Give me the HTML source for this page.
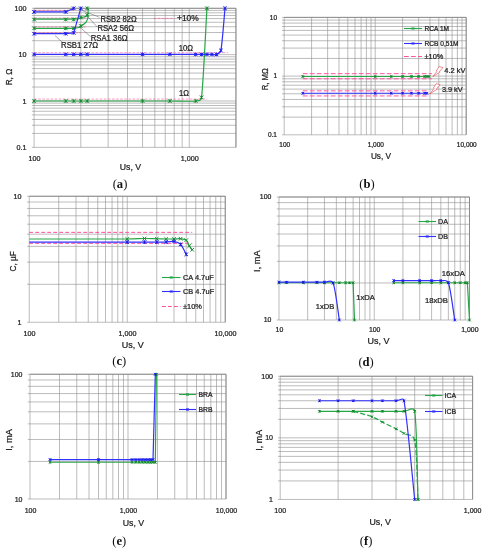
<!DOCTYPE html>
<html lang="en"><head><meta charset="utf-8"><title>Figure</title>
<style>html,body{margin:0;padding:0;background:#fff}svg{display:block}text{white-space:pre}</style>
</head><body>
<svg width="484" height="550" viewBox="0 0 484 550">
<rect width="484" height="550" fill="#fff"/>
<path d="M34.10 8.30V147.35M80.80 8.30V147.35M108.13 8.30V147.35M127.51 8.30V147.35M142.55 8.30V147.35M154.83 8.30V147.35M165.22 8.30V147.35M174.21 8.30V147.35M182.15 8.30V147.35M189.25 8.30V147.35M235.95 8.30V147.35M31.90 147.35H235.95M31.90 133.40H235.95M31.90 125.24H235.95M31.90 119.44H235.95M31.90 114.95H235.95M31.90 111.28H235.95M31.90 108.18H235.95M31.90 105.49H235.95M31.90 103.12H235.95M31.90 101.00H235.95M31.90 87.05H235.95M31.90 78.89H235.95M31.90 73.09H235.95M31.90 68.60H235.95M31.90 64.93H235.95M31.90 61.83H235.95M31.90 59.14H235.95M31.90 56.77H235.95M31.90 54.65H235.95M31.90 40.70H235.95M31.90 32.54H235.95M31.90 26.74H235.95M31.90 22.25H235.95M31.90 18.58H235.95M31.90 15.48H235.95M31.90 12.79H235.95M31.90 10.42H235.95M31.90 8.30H235.95" stroke="#8e8e8e" stroke-width="0.6" fill="none"/>
<path d="M34.10 8.30H235.95V147.35" fill="none" stroke="#808080" stroke-width="0.8"/>
<path d="M34.10 10.38L73.71 10.38" stroke="#ff4f9a" stroke-width="0.6" fill="none" stroke-linejoin="round" stroke-dasharray="2.6 1.5"/>
<path d="M34.10 18.05L87.23 18.05" stroke="#ff4f9a" stroke-width="0.6" fill="none" stroke-linejoin="round" stroke-dasharray="2.6 1.5"/>
<path d="M34.10 26.95L87.23 26.95" stroke="#ff4f9a" stroke-width="0.6" fill="none" stroke-linejoin="round" stroke-dasharray="2.6 1.5"/>
<path d="M34.10 32.74L80.80 32.74" stroke="#ff4f9a" stroke-width="0.6" fill="none" stroke-linejoin="round" stroke-dasharray="2.6 1.5"/>
<path d="M34.10 52.73L228.10 52.73" stroke="#ff4f9a" stroke-width="0.6" fill="none" stroke-linejoin="round" stroke-dasharray="2.6 1.5"/>
<path d="M34.10 99.08L206.93 99.08" stroke="#ff4f9a" stroke-width="0.6" fill="none" stroke-linejoin="round" stroke-dasharray="2.6 1.5"/>
<path d="M99.6 17.3L81.5 10.2" stroke="#555" stroke-width="0.5" fill="none"/>
<path d="M97.4 27.1L87.5 16.4" stroke="#555" stroke-width="0.5" fill="none"/>
<path d="M90.7 36.8L79.2 26.6" stroke="#555" stroke-width="0.5" fill="none"/>
<path d="M62.4 42.4L55 35.5" stroke="#555" stroke-width="0.5" fill="none"/>
<path d="M34.10 101.00C39.38 101.00 59.17 101.00 65.77 101.00C69.74 101.00 71.20 101.00 73.71 101.00C76.21 101.00 78.55 101.00 80.80 101.00C83.06 101.00 84.02 101.00 87.23 101.00C97.52 101.00 128.77 101.00 142.55 101.00C156.21 101.00 161.01 101.00 169.87 101.00C178.72 101.00 190.39 101.61 195.67 101.00C199.11 100.60 201.12 100.76 201.53 97.33C203.41 81.88 206.03 23.14 206.93 8.30" stroke="#27a646" stroke-width="1.2" fill="none" stroke-linejoin="round"/>
<path d="M32.30 99.20L35.90 102.80M32.30 102.80L35.90 99.20M34.10 99.20V102.80M63.97 99.20L67.57 102.80M63.97 102.80L67.57 99.20M65.77 99.20V102.80M71.91 99.20L75.51 102.80M71.91 102.80L75.51 99.20M73.71 99.20V102.80M79.00 99.20L82.60 102.80M79.00 102.80L82.60 99.20M80.80 99.20V102.80M85.43 99.20L89.03 102.80M85.43 102.80L89.03 99.20M87.23 99.20V102.80M140.75 99.20L144.35 102.80M140.75 102.80L144.35 99.20M142.55 99.20V102.80M168.07 99.20L171.67 102.80M168.07 102.80L171.67 99.20M169.87 99.20V102.80M193.87 99.20L197.47 102.80M193.87 102.80L197.47 99.20M195.67 99.20V102.80M199.73 95.53L203.33 99.13M199.73 99.13L203.33 95.53M201.53 95.53V99.13M205.13 6.50L208.73 10.10M205.13 10.10L208.73 6.50M206.93 6.50V10.10" stroke="#12882c" stroke-width="0.95" fill="none"/>
<path d="M34.1 19.1H74.1C77 19.1 79 18.3 81.7 17.5C85.5 16.6 88.1 16.4 88.1 13V8.3" stroke="#27a646" stroke-width="1.2" fill="none" stroke-linejoin="round"/>
<path d="M34.1 28.4H74.1C77 28.3 79.5 27.2 81.3 26C85.5 23.4 88.1 21.5 88.1 15" stroke="#27a646" stroke-width="1.2" fill="none" stroke-linejoin="round"/>
<path d="M32.30 17.71L35.90 21.31M32.30 21.31L35.90 17.71M34.10 17.71V21.31M63.97 17.71L67.57 21.31M63.97 21.31L67.57 17.71M65.77 17.71V21.31M71.91 17.71L75.51 21.31M71.91 21.31L75.51 17.71M73.71 17.71V21.31M79.00 15.70L82.60 19.30M79.00 19.30L82.60 15.70M80.80 15.70V19.30M85.43 13.11L89.03 16.71M85.43 16.71L89.03 13.11M87.23 13.11V16.71M85.43 6.50L89.03 10.10M85.43 10.10L89.03 6.50M87.23 6.50V10.10" stroke="#12882c" stroke-width="0.95" fill="none"/>
<path d="M32.30 26.57L35.90 30.17M32.30 30.17L35.90 26.57M34.10 26.57V30.17M63.97 26.57L67.57 30.17M63.97 30.17L67.57 26.57M65.77 26.57V30.17M71.91 26.57L75.51 30.17M71.91 30.17L75.51 26.57M73.71 26.57V30.17M79.00 24.20L82.60 27.80M79.00 27.80L82.60 24.20M80.80 24.20V27.80" stroke="#12882c" stroke-width="0.95" fill="none"/>
<path d="M34.10 54.35C39.38 54.35 59.17 54.35 65.77 54.35C69.74 54.35 71.20 54.35 73.71 54.35C76.21 54.35 78.55 54.35 80.80 54.35C83.06 54.35 84.02 54.35 87.23 54.35C97.52 54.35 128.77 54.35 142.55 54.35C156.21 54.35 161.01 54.33 169.87 54.35C178.72 54.37 190.39 54.43 195.67 54.45C198.60 54.46 199.66 54.45 201.53 54.45C203.41 54.45 205.20 54.45 206.93 54.45C208.66 54.45 210.31 54.45 211.92 54.45C213.53 54.45 215.07 55.11 216.57 54.45C218.07 53.79 220.39 53.38 220.92 50.48C222.32 42.79 224.32 15.33 225.00 8.30" stroke="#3030ff" stroke-width="1.2" fill="none" stroke-linejoin="round"/>
<path d="M32.30 52.55L35.90 56.15M32.30 56.15L35.90 52.55M34.10 52.55V56.15M63.97 52.55L67.57 56.15M63.97 56.15L67.57 52.55M65.77 52.55V56.15M71.91 52.55L75.51 56.15M71.91 56.15L75.51 52.55M73.71 52.55V56.15M79.00 52.55L82.60 56.15M79.00 56.15L82.60 52.55M80.80 52.55V56.15M85.43 52.55L89.03 56.15M85.43 56.15L89.03 52.55M87.23 52.55V56.15M140.75 52.55L144.35 56.15M140.75 56.15L144.35 52.55M142.55 52.55V56.15M168.07 52.55L171.67 56.15M168.07 56.15L171.67 52.55M169.87 52.55V56.15M193.87 52.65L197.47 56.25M193.87 56.25L197.47 52.65M195.67 52.65V56.25M199.73 52.65L203.33 56.25M199.73 56.25L203.33 52.65M201.53 52.65V56.25M205.13 52.65L208.73 56.25M205.13 56.25L208.73 52.65M206.93 52.65V56.25M210.12 52.65L213.72 56.25M210.12 56.25L213.72 52.65M211.92 52.65V56.25M214.77 52.65L218.37 56.25M214.77 56.25L218.37 52.65M216.57 52.65V56.25M219.12 48.68L222.72 52.28M219.12 52.28L222.72 48.68M220.92 48.68V52.28M223.20 6.50L226.80 10.10M223.20 10.10L226.80 6.50M225.00 6.50V10.10" stroke="#1818e8" stroke-width="0.95" fill="none"/>
<path d="M34.10 11.93L65.77 11.93L73.71 8.30" stroke="#3030ff" stroke-width="1.2" fill="none" stroke-linejoin="round"/>
<path d="M32.30 10.13L35.90 13.73M32.30 13.73L35.90 10.13M34.10 10.13V13.73M63.97 10.13L67.57 13.73M63.97 13.73L67.57 10.13M65.77 10.13V13.73M71.91 6.50L75.51 10.10M71.91 10.10L75.51 6.50M73.71 6.50V10.10" stroke="#1818e8" stroke-width="0.95" fill="none"/>
<path d="M34.10 33.71L65.77 33.71L73.71 32.87L80.80 8.30" stroke="#3030ff" stroke-width="1.2" fill="none" stroke-linejoin="round"/>
<path d="M32.30 31.91L35.90 35.51M32.30 35.51L35.90 31.91M34.10 31.91V35.51M63.97 31.91L67.57 35.51M63.97 35.51L67.57 31.91M65.77 31.91V35.51M71.91 31.07L75.51 34.67M71.91 34.67L75.51 31.07M73.71 31.07V34.67M79.00 6.50L82.60 10.10M79.00 10.10L82.60 6.50M80.80 6.50V10.10" stroke="#1818e8" stroke-width="0.95" fill="none"/>
<text x="100.50" y="21.60" font-size="8.2" text-anchor="start" font-family='"Liberation Sans", sans-serif' fill="#1a1a1a" stroke="#1a1a1a" stroke-width="0.22" textLength="36.3" lengthAdjust="spacingAndGlyphs">RSB2 82Ω</text>
<text x="97.40" y="31.10" font-size="8.2" text-anchor="start" font-family='"Liberation Sans", sans-serif' fill="#1a1a1a" stroke="#1a1a1a" stroke-width="0.22" textLength="36.6" lengthAdjust="spacingAndGlyphs">RSA2 56Ω</text>
<text x="90.70" y="40.50" font-size="8.2" text-anchor="start" font-family='"Liberation Sans", sans-serif' fill="#1a1a1a" stroke="#1a1a1a" stroke-width="0.22" textLength="36.8" lengthAdjust="spacingAndGlyphs">RSA1 36Ω</text>
<text x="61.00" y="47.60" font-size="8.2" text-anchor="start" font-family='"Liberation Sans", sans-serif' fill="#1a1a1a" stroke="#1a1a1a" stroke-width="0.22" textLength="37.1" lengthAdjust="spacingAndGlyphs">RSB1 27Ω</text>
<path d="M153.7 18.4H172.3" stroke="#ff4f9a" stroke-width="0.6" stroke-dasharray="2.6 1.5"/>
<text x="177.00" y="20.90" font-size="8.2" text-anchor="start" font-family='"Liberation Sans", sans-serif' fill="#1a1a1a" stroke="#1a1a1a" stroke-width="0.22" textLength="21.7" lengthAdjust="spacingAndGlyphs">+10%</text>
<text x="178.80" y="50.50" font-size="8.2" text-anchor="start" font-family='"Liberation Sans", sans-serif' fill="#1a1a1a" stroke="#1a1a1a" stroke-width="0.22" textLength="14.3" lengthAdjust="spacingAndGlyphs">10Ω</text>
<text x="179.00" y="95.80" font-size="8.2" text-anchor="start" font-family='"Liberation Sans", sans-serif' fill="#1a1a1a" stroke="#1a1a1a" stroke-width="0.22" textLength="10" lengthAdjust="spacingAndGlyphs">1Ω</text>
<text x="26.60" y="10.89" font-size="7.2" text-anchor="end" font-family='"Liberation Sans", sans-serif' fill="#1a1a1a" stroke="#1a1a1a" stroke-width="0.22">100</text>
<text x="26.60" y="57.24" font-size="7.2" text-anchor="end" font-family='"Liberation Sans", sans-serif' fill="#1a1a1a" stroke="#1a1a1a" stroke-width="0.22">10</text>
<text x="26.60" y="103.59" font-size="7.2" text-anchor="end" font-family='"Liberation Sans", sans-serif' fill="#1a1a1a" stroke="#1a1a1a" stroke-width="0.22">1</text>
<text x="26.60" y="149.94" font-size="7.2" text-anchor="end" font-family='"Liberation Sans", sans-serif' fill="#1a1a1a" stroke="#1a1a1a" stroke-width="0.22">0.1</text>
<text x="34.60" y="160.89" font-size="7.2" text-anchor="middle" font-family='"Liberation Sans", sans-serif' fill="#1a1a1a" stroke="#1a1a1a" stroke-width="0.22">100</text>
<text x="189.75" y="160.89" font-size="7.2" text-anchor="middle" font-family='"Liberation Sans", sans-serif' fill="#1a1a1a" stroke="#1a1a1a" stroke-width="0.22">1,000</text>
<text x="130.40" y="170.40" font-size="8.8" text-anchor="middle" font-family='"Liberation Sans", sans-serif' fill="#1a1a1a" stroke="#1a1a1a" stroke-width="0.22" textLength="21.3" lengthAdjust="spacingAndGlyphs">Us, V</text>
<text x="12.00" y="77.00" font-size="9" text-anchor="middle" font-family='"Liberation Sans", sans-serif' fill="#1a1a1a" stroke="#1a1a1a" stroke-width="0.22" transform="rotate(-90 12.00 77.00)" textLength="16.6" lengthAdjust="spacingAndGlyphs">R, Ω</text>
<text x="120.00" y="187.80" font-size="12.6" text-anchor="middle" font-family='"Liberation Serif", serif' fill="#111">(<tspan font-weight="bold">a</tspan>)</text>
<path d="M284.20 17.40V134.80M311.59 17.40V134.80M327.62 17.40V134.80M338.99 17.40V134.80M347.81 17.40V134.80M355.01 17.40V134.80M361.10 17.40V134.80M366.38 17.40V134.80M371.04 17.40V134.80M375.20 17.40V134.80M402.59 17.40V134.80M418.62 17.40V134.80M429.99 17.40V134.80M438.81 17.40V134.80M446.01 17.40V134.80M452.10 17.40V134.80M457.38 17.40V134.80M462.04 17.40V134.80M466.20 17.40V134.80M282.00 134.80H466.20M282.00 117.13H466.20M282.00 106.79H466.20M282.00 99.46H466.20M282.00 93.77H466.20M282.00 89.12H466.20M282.00 85.19H466.20M282.00 81.79H466.20M282.00 78.79H466.20M282.00 76.10H466.20M282.00 58.43H466.20M282.00 48.09H466.20M282.00 40.76H466.20M282.00 35.07H466.20M282.00 30.42H466.20M282.00 26.49H466.20M282.00 23.09H466.20M282.00 20.09H466.20M282.00 17.40H466.20" stroke="#8e8e8e" stroke-width="0.6" fill="none"/>
<path d="M284.20 17.40H466.20V134.80" fill="none" stroke="#808080" stroke-width="0.8"/>
<path d="M302.77 73.67L431.92 73.67" stroke="#ff4f9a" stroke-width="0.95" fill="none" stroke-linejoin="round" stroke-dasharray="4.8 2.2"/>
<path d="M302.77 78.79L431.92 78.79" stroke="#ff4f9a" stroke-width="0.95" fill="none" stroke-linejoin="round" stroke-dasharray="4.8 2.2"/>
<path d="M302.77 90.84L428.99 90.84" stroke="#ff4f9a" stroke-width="0.95" fill="none" stroke-linejoin="round" stroke-dasharray="4.8 2.2"/>
<path d="M302.77 95.95L428.99 95.95" stroke="#ff4f9a" stroke-width="0.95" fill="none" stroke-linejoin="round" stroke-dasharray="4.8 2.2"/>
<path d="M302.77 76.49L375.20 76.49L391.22 76.49L402.59 76.49L411.41 76.49L418.62 76.49L424.71 76.49L426.91 76.49L428.99 76.49" stroke="#27a646" stroke-width="1.2" fill="none" stroke-linejoin="round"/>
<path d="M301.47 75.19L304.07 77.79M301.47 77.79L304.07 75.19M302.77 75.19V77.79M373.90 75.19L376.50 77.79M373.90 77.79L376.50 75.19M375.20 75.19V77.79M389.92 75.19L392.52 77.79M389.92 77.79L392.52 75.19M391.22 75.19V77.79M401.29 75.19L403.89 77.79M401.29 77.79L403.89 75.19M402.59 75.19V77.79M410.11 75.19L412.71 77.79M410.11 77.79L412.71 75.19M411.41 75.19V77.79M417.32 75.19L419.92 77.79M417.32 77.79L419.92 75.19M418.62 75.19V77.79M423.41 75.19L426.01 77.79M423.41 77.79L426.01 75.19M424.71 75.19V77.79M425.61 75.19L428.21 77.79M425.61 77.79L428.21 75.19M426.91 75.19V77.79M427.69 75.19L430.29 77.79M427.69 77.79L430.29 75.19M428.99 75.19V77.79" stroke="#12882c" stroke-width="0.95" fill="none"/>
<path d="M302.77 93.27L375.20 93.27L391.22 93.27L402.59 93.27L411.41 93.27L418.62 93.27L424.71 93.27L426.91 93.27" stroke="#3030ff" stroke-width="1.2" fill="none" stroke-linejoin="round"/>
<path d="M301.47 91.97L304.07 94.57M301.47 94.57L304.07 91.97M302.77 91.97V94.57M373.90 91.97L376.50 94.57M373.90 94.57L376.50 91.97M375.20 91.97V94.57M389.92 91.97L392.52 94.57M389.92 94.57L392.52 91.97M391.22 91.97V94.57M401.29 91.97L403.89 94.57M401.29 94.57L403.89 91.97M402.59 91.97V94.57M410.11 91.97L412.71 94.57M410.11 94.57L412.71 91.97M411.41 91.97V94.57M417.32 91.97L419.92 94.57M417.32 94.57L419.92 91.97M418.62 91.97V94.57M423.41 91.97L426.01 94.57M423.41 94.57L426.01 91.97M424.71 91.97V94.57M425.61 91.97L428.21 94.57M425.61 94.57L428.21 91.97M426.91 91.97V94.57" stroke="#1818e8" stroke-width="0.95" fill="none"/>
<path d="M404.00 28.50H422.00" stroke="#27a646" stroke-width="1.1" fill="none"/>
<path d="M411.60 27.10L414.40 29.90M411.60 29.90L414.40 27.10M413.00 27.10V29.90" stroke="#27a646" stroke-width="0.7" fill="none"/>
<text x="424.50" y="30.88" font-size="6.6" text-anchor="start" font-family='"Liberation Sans", sans-serif' fill="#1a1a1a" stroke="#1a1a1a" stroke-width="0.22">RCA 1M</text>
<path d="M404.00 43.50H422.00" stroke="#3030ff" stroke-width="1.1" fill="none"/>
<path d="M411.60 42.10L414.40 44.90M411.60 44.90L414.40 42.10M413.00 42.10V44.90" stroke="#3030ff" stroke-width="0.7" fill="none"/>
<text x="424.50" y="45.88" font-size="6.6" text-anchor="start" font-family='"Liberation Sans", sans-serif' fill="#1a1a1a" stroke="#1a1a1a" stroke-width="0.22">RCB 0,51M</text>
<path d="M404.00 56.50H422.00" stroke="#ff4f9a" stroke-width="0.95" stroke-dasharray="4.8 2.2" fill="none"/>
<text x="424.50" y="59.16" font-size="7.4" text-anchor="start" font-family='"Liberation Sans", sans-serif' fill="#1a1a1a" stroke="#1a1a1a" stroke-width="0.22">±10%</text>
<path d="M432.90 76.70L437.10 71.10L436.40 70.70L439.10 66.60L442.90 67.60L439.50 71.50L440.20 71.90Z" stroke="#e8303a" stroke-width="0.55" fill="#fff" stroke-linejoin="miter"/>
<path d="M430.00 93.80L434.20 88.20L433.50 87.80L436.20 83.70L440.00 84.70L436.60 88.60L437.30 89.00Z" stroke="#e8303a" stroke-width="0.55" fill="#fff" stroke-linejoin="miter"/>
<text x="444.30" y="72.90" font-size="7.4" text-anchor="start" font-family='"Liberation Sans", sans-serif' fill="#1a1a1a" stroke="#1a1a1a" stroke-width="0.22" textLength="21.2" lengthAdjust="spacingAndGlyphs">4.2 kV</text>
<text x="441.90" y="91.50" font-size="7.4" text-anchor="start" font-family='"Liberation Sans", sans-serif' fill="#1a1a1a" stroke="#1a1a1a" stroke-width="0.22" textLength="20.7" lengthAdjust="spacingAndGlyphs">3.9 kV</text>
<text x="277.00" y="19.74" font-size="6.5" text-anchor="end" font-family='"Liberation Sans", sans-serif' fill="#1a1a1a" stroke="#1a1a1a" stroke-width="0.22">10</text>
<text x="277.00" y="78.44" font-size="6.5" text-anchor="end" font-family='"Liberation Sans", sans-serif' fill="#1a1a1a" stroke="#1a1a1a" stroke-width="0.22">1</text>
<text x="277.00" y="137.14" font-size="6.5" text-anchor="end" font-family='"Liberation Sans", sans-serif' fill="#1a1a1a" stroke="#1a1a1a" stroke-width="0.22">0.1</text>
<text x="284.80" y="146.94" font-size="6.5" text-anchor="middle" font-family='"Liberation Sans", sans-serif' fill="#1a1a1a" stroke="#1a1a1a" stroke-width="0.22">100</text>
<text x="375.80" y="146.94" font-size="6.5" text-anchor="middle" font-family='"Liberation Sans", sans-serif' fill="#1a1a1a" stroke="#1a1a1a" stroke-width="0.22">1,000</text>
<text x="466.80" y="146.94" font-size="6.5" text-anchor="middle" font-family='"Liberation Sans", sans-serif' fill="#1a1a1a" stroke="#1a1a1a" stroke-width="0.22">10,000</text>
<text x="381.00" y="159.40" font-size="8.2" text-anchor="middle" font-family='"Liberation Sans", sans-serif' fill="#1a1a1a" stroke="#1a1a1a" stroke-width="0.22" textLength="20.2" lengthAdjust="spacingAndGlyphs">Us, V</text>
<text x="268.00" y="79.30" font-size="8.3" text-anchor="middle" font-family='"Liberation Sans", sans-serif' fill="#1a1a1a" stroke="#1a1a1a" stroke-width="0.22" transform="rotate(-90 268.00 79.30)" textLength="22" lengthAdjust="spacingAndGlyphs">R, MΩ</text>
<text x="367.00" y="188.20" font-size="12.6" text-anchor="middle" font-family='"Liberation Serif", serif' fill="#111">(<tspan font-weight="bold">b</tspan>)</text>
<path d="M29.25 196.25V322.25M58.75 196.25V322.25M76.01 196.25V322.25M88.25 196.25V322.25M97.75 196.25V322.25M105.51 196.25V322.25M112.07 196.25V322.25M117.75 196.25V322.25M122.77 196.25V322.25M127.25 196.25V322.25M156.75 196.25V322.25M174.01 196.25V322.25M186.25 196.25V322.25M195.75 196.25V322.25M203.51 196.25V322.25M210.07 196.25V322.25M215.75 196.25V322.25M220.77 196.25V322.25M225.25 196.25V322.25M27.05 322.25H225.25M27.05 284.32H225.25M27.05 262.13H225.25M27.05 246.39H225.25M27.05 234.18H225.25M27.05 224.20H225.25M27.05 215.77H225.25M27.05 208.46H225.25M27.05 202.02H225.25M27.05 196.25H225.25" stroke="#8e8e8e" stroke-width="0.6" fill="none"/>
<path d="M29.25 196.25H225.25V322.25" fill="none" stroke="#808080" stroke-width="0.8"/>
<path d="M29.25 232.35L192.20 232.35" stroke="#ff4f9a" stroke-width="1.0" fill="none" stroke-linejoin="round" stroke-dasharray="3.8 2.2"/>
<path d="M29.25 243.33L192.20 243.33" stroke="#ff4f9a" stroke-width="1.0" fill="none" stroke-linejoin="round" stroke-dasharray="3.8 2.2"/>
<path d="M29.25 238.98C45.58 238.98 108.04 239.06 127.25 238.98C135.88 238.95 139.59 238.54 144.51 238.51C149.42 238.47 153.13 238.66 156.75 238.74C160.37 238.82 163.37 238.94 166.25 238.98C169.12 239.02 171.62 239.02 174.01 238.98C176.39 238.94 178.53 238.54 180.57 238.74C182.61 238.94 184.79 238.98 186.25 240.19C187.71 241.40 188.34 244.38 189.33 245.98C190.32 247.58 191.72 249.14 192.20 249.78" stroke="#27a646" stroke-width="1.2" fill="none" stroke-linejoin="round"/>
<path d="M125.45 237.18L129.05 240.78M125.45 240.78L129.05 237.18M142.71 236.71L146.31 240.31M142.71 240.31L146.31 236.71M154.95 236.94L158.55 240.54M154.95 240.54L158.55 236.94M164.45 237.18L168.05 240.78M164.45 240.78L168.05 237.18M172.21 237.18L175.81 240.78M172.21 240.78L175.81 237.18M178.77 236.94L182.37 240.54M178.77 240.54L182.37 236.94M184.45 238.39L188.05 241.99M184.45 241.99L188.05 238.39M187.53 244.18L191.13 247.78M187.53 247.78L191.13 244.18M190.40 247.98L194.00 251.58M190.40 251.58L194.00 247.98" stroke="#12882c" stroke-width="0.95" fill="none"/>
<path d="M29.25 242.05C45.58 242.05 108.04 242.05 127.25 242.05C135.88 242.05 139.59 242.05 144.51 242.05C149.42 242.05 153.13 242.05 156.75 242.05C160.37 242.05 163.37 242.16 166.25 242.05C169.12 241.95 171.62 241.04 174.01 241.42C176.39 241.81 178.53 242.23 180.57 244.38C182.61 246.53 185.30 252.67 186.25 254.33" stroke="#3030ff" stroke-width="1.2" fill="none" stroke-linejoin="round"/>
<path d="M125.45 240.25L129.05 243.85M125.45 243.85L129.05 240.25M127.25 240.25V243.85M142.71 240.25L146.31 243.85M142.71 243.85L146.31 240.25M144.51 240.25V243.85M154.95 240.25L158.55 243.85M154.95 243.85L158.55 240.25M156.75 240.25V243.85M164.45 240.25L168.05 243.85M164.45 243.85L168.05 240.25M166.25 240.25V243.85M172.21 239.62L175.81 243.22M172.21 243.22L175.81 239.62M174.01 239.62V243.22M178.77 242.58L182.37 246.18M178.77 246.18L182.37 242.58M180.57 242.58V246.18M184.45 252.53L188.05 256.13M184.45 256.13L188.05 252.53M186.25 252.53V256.13" stroke="#1818e8" stroke-width="0.95" fill="none"/>
<path d="M162.00 277.50H180.50" stroke="#27a646" stroke-width="1.1" fill="none"/>
<path d="M169.85 276.10L172.65 278.90M169.85 278.90L172.65 276.10M171.25 276.10V278.90" stroke="#27a646" stroke-width="0.7" fill="none"/>
<text x="183.00" y="280.16" font-size="7.4" text-anchor="start" font-family='"Liberation Sans", sans-serif' fill="#1a1a1a" stroke="#1a1a1a" stroke-width="0.22">CA 4.7uF</text>
<path d="M162.00 291.50H180.50" stroke="#3030ff" stroke-width="1.1" fill="none"/>
<path d="M169.85 290.10L172.65 292.90M169.85 292.90L172.65 290.10M171.25 290.10V292.90" stroke="#3030ff" stroke-width="0.7" fill="none"/>
<text x="183.00" y="294.16" font-size="7.4" text-anchor="start" font-family='"Liberation Sans", sans-serif' fill="#1a1a1a" stroke="#1a1a1a" stroke-width="0.22">CB 4.7uF</text>
<path d="M162.00 306.50H180.50" stroke="#ff4f9a" stroke-width="1.0" stroke-dasharray="3.8 2.2" fill="none"/>
<text x="183.00" y="309.16" font-size="7.4" text-anchor="start" font-family='"Liberation Sans", sans-serif' fill="#1a1a1a" stroke="#1a1a1a" stroke-width="0.22">±10%</text>
<text x="21.50" y="198.84" font-size="7.2" text-anchor="end" font-family='"Liberation Sans", sans-serif' fill="#1a1a1a" stroke="#1a1a1a" stroke-width="0.22">10</text>
<text x="21.50" y="324.84" font-size="7.2" text-anchor="end" font-family='"Liberation Sans", sans-serif' fill="#1a1a1a" stroke="#1a1a1a" stroke-width="0.22">1</text>
<text x="29.55" y="335.89" font-size="7.2" text-anchor="middle" font-family='"Liberation Sans", sans-serif' fill="#1a1a1a" stroke="#1a1a1a" stroke-width="0.22">100</text>
<text x="127.55" y="335.89" font-size="7.2" text-anchor="middle" font-family='"Liberation Sans", sans-serif' fill="#1a1a1a" stroke="#1a1a1a" stroke-width="0.22">1,000</text>
<text x="225.55" y="335.89" font-size="7.2" text-anchor="middle" font-family='"Liberation Sans", sans-serif' fill="#1a1a1a" stroke="#1a1a1a" stroke-width="0.22">10,000</text>
<text x="132.70" y="347.90" font-size="8.8" text-anchor="middle" font-family='"Liberation Sans", sans-serif' fill="#1a1a1a" stroke="#1a1a1a" stroke-width="0.22" textLength="22" lengthAdjust="spacingAndGlyphs">Us, V</text>
<text x="16.00" y="261.30" font-size="8.6" text-anchor="middle" font-family='"Liberation Sans", sans-serif' fill="#1a1a1a" stroke="#1a1a1a" stroke-width="0.22" transform="rotate(-90 16.00 261.30)" textLength="20.4" lengthAdjust="spacingAndGlyphs">C, µF</text>
<text x="119.30" y="365.10" font-size="12.6" text-anchor="middle" font-family='"Liberation Serif", serif' fill="#111">(<tspan font-weight="bold">c</tspan>)</text>
<path d="M279.00 197.00V320.00M307.67 197.00V320.00M324.45 197.00V320.00M336.35 197.00V320.00M345.58 197.00V320.00M353.12 197.00V320.00M359.50 197.00V320.00M365.02 197.00V320.00M369.89 197.00V320.00M374.25 197.00V320.00M402.92 197.00V320.00M419.70 197.00V320.00M431.60 197.00V320.00M440.83 197.00V320.00M448.37 197.00V320.00M454.75 197.00V320.00M460.27 197.00V320.00M465.14 197.00V320.00M469.50 197.00V320.00M276.80 320.00H469.50M276.80 282.97H469.50M276.80 261.31H469.50M276.80 245.95H469.50M276.80 234.03H469.50M276.80 224.29H469.50M276.80 216.05H469.50M276.80 208.92H469.50M276.80 202.63H469.50M276.80 197.00H469.50" stroke="#8e8e8e" stroke-width="0.6" fill="none"/>
<path d="M279.00 197.00H469.50V320.00" fill="none" stroke="#808080" stroke-width="0.8"/>
<path d="M279.00 282.76L286.54 282.76L303.31 282.76L316.90 282.76L324.45 282.76L333.12 282.76L339.34 282.76L345.58 282.76L349.52 282.76L353.12 282.76L354.48 320.00" stroke="#27a646" stroke-width="1.2" fill="none" stroke-linejoin="round"/>
<path d="M277.70 281.46L280.30 284.06M277.70 284.06L280.30 281.46M279.00 281.46V284.06M285.24 281.46L287.84 284.06M285.24 284.06L287.84 281.46M286.54 281.46V284.06M302.01 281.46L304.61 284.06M302.01 284.06L304.61 281.46M303.31 281.46V284.06M315.60 281.46L318.20 284.06M315.60 284.06L318.20 281.46M316.90 281.46V284.06M323.15 281.46L325.75 284.06M323.15 284.06L325.75 281.46M324.45 281.46V284.06M331.82 281.46L334.42 284.06M331.82 284.06L334.42 281.46M333.12 281.46V284.06M338.04 281.46L340.64 284.06M338.04 284.06L340.64 281.46M339.34 281.46V284.06M344.28 281.46L346.88 284.06M344.28 284.06L346.88 281.46M345.58 281.46V284.06M348.22 281.46L350.82 284.06M348.22 284.06L350.82 281.46M349.52 281.46V284.06M351.82 281.46L354.42 284.06M351.82 284.06L354.42 281.46M353.12 281.46V284.06M353.18 318.70L355.78 321.30M353.18 321.30L355.78 318.70M354.48 318.70V321.30" stroke="#12882c" stroke-width="0.95" fill="none"/>
<path d="M393.69 282.76L402.92 282.76L419.70 282.76L431.60 282.76L440.83 282.76L448.37 282.76L454.75 282.76L460.27 282.76L465.14 282.76L467.38 282.76L469.50 320.00" stroke="#27a646" stroke-width="1.2" fill="none" stroke-linejoin="round"/>
<path d="M392.39 281.46L394.99 284.06M392.39 284.06L394.99 281.46M393.69 281.46V284.06M401.62 281.46L404.22 284.06M401.62 284.06L404.22 281.46M402.92 281.46V284.06M418.40 281.46L421.00 284.06M418.40 284.06L421.00 281.46M419.70 281.46V284.06M430.30 281.46L432.90 284.06M430.30 284.06L432.90 281.46M431.60 281.46V284.06M439.53 281.46L442.13 284.06M439.53 284.06L442.13 281.46M440.83 281.46V284.06M447.07 281.46L449.67 284.06M447.07 284.06L449.67 281.46M448.37 281.46V284.06M453.45 281.46L456.05 284.06M453.45 284.06L456.05 281.46M454.75 281.46V284.06M458.97 281.46L461.57 284.06M458.97 284.06L461.57 281.46M460.27 281.46V284.06M463.84 281.46L466.44 284.06M463.84 284.06L466.44 281.46M465.14 281.46V284.06M466.08 281.46L468.68 284.06M466.08 284.06L468.68 281.46M467.38 281.46V284.06M468.20 318.70L470.80 321.30M468.20 321.30L470.80 318.70M469.50 318.70V321.30" stroke="#12882c" stroke-width="0.95" fill="none"/>
<path d="M279.00 282.18C280.26 282.18 282.77 282.18 286.54 282.18C290.59 282.18 298.25 282.18 303.31 282.18C308.38 282.18 313.38 282.18 316.90 282.18C320.43 282.18 321.74 282.02 324.45 282.18C327.15 282.33 331.52 279.05 333.12 283.11C335.60 289.41 338.30 313.85 339.34 320.00" stroke="#3030ff" stroke-width="1.2" fill="none" stroke-linejoin="round"/>
<path d="M277.70 280.88L280.30 283.48M277.70 283.48L280.30 280.88M279.00 280.88V283.48M285.24 280.88L287.84 283.48M285.24 283.48L287.84 280.88M286.54 280.88V283.48M302.01 280.88L304.61 283.48M302.01 283.48L304.61 280.88M303.31 280.88V283.48M315.60 280.88L318.20 283.48M315.60 283.48L318.20 280.88M316.90 280.88V283.48M323.15 280.88L325.75 283.48M323.15 283.48L325.75 280.88M324.45 280.88V283.48M331.82 281.81L334.42 284.41M331.82 284.41L334.42 281.81M333.12 281.81V284.41M338.04 318.70L340.64 321.30M338.04 321.30L340.64 318.70M339.34 318.70V321.30" stroke="#1818e8" stroke-width="0.95" fill="none"/>
<path d="M393.69 280.62C395.23 280.62 398.59 280.62 402.92 280.62C407.26 280.62 414.92 280.62 419.70 280.62C424.47 280.62 428.07 280.62 431.60 280.62C435.12 280.62 438.03 280.27 440.83 280.62C443.62 280.98 447.06 279.06 448.37 282.76C450.69 289.32 453.68 313.79 454.75 320.00" stroke="#3030ff" stroke-width="1.2" fill="none" stroke-linejoin="round"/>
<path d="M392.39 279.32L394.99 281.92M392.39 281.92L394.99 279.32M393.69 279.32V281.92M401.62 279.32L404.22 281.92M401.62 281.92L404.22 279.32M402.92 279.32V281.92M418.40 279.32L421.00 281.92M418.40 281.92L421.00 279.32M419.70 279.32V281.92M430.30 279.32L432.90 281.92M430.30 281.92L432.90 279.32M431.60 279.32V281.92M439.53 279.32L442.13 281.92M439.53 281.92L442.13 279.32M440.83 279.32V281.92M447.07 281.46L449.67 284.06M447.07 284.06L449.67 281.46M448.37 281.46V284.06M453.45 318.70L456.05 321.30M453.45 321.30L456.05 318.70M454.75 318.70V321.30" stroke="#1818e8" stroke-width="0.95" fill="none"/>
<path d="M418.50 221.50H436.00" stroke="#27a646" stroke-width="1.1" fill="none"/>
<path d="M425.85 220.10L428.65 222.90M425.85 222.90L428.65 220.10M427.25 220.10V222.90" stroke="#27a646" stroke-width="0.7" fill="none"/>
<text x="438.00" y="224.09" font-size="7.2" text-anchor="start" font-family='"Liberation Sans", sans-serif' fill="#1a1a1a" stroke="#1a1a1a" stroke-width="0.22">DA</text>
<path d="M418.50 236.50H436.00" stroke="#3030ff" stroke-width="1.1" fill="none"/>
<path d="M425.85 235.10L428.65 237.90M425.85 237.90L428.65 235.10M427.25 235.10V237.90" stroke="#3030ff" stroke-width="0.7" fill="none"/>
<text x="438.00" y="239.09" font-size="7.2" text-anchor="start" font-family='"Liberation Sans", sans-serif' fill="#1a1a1a" stroke="#1a1a1a" stroke-width="0.22">DB</text>
<text x="356.30" y="300.10" font-size="7.8" text-anchor="start" font-family='"Liberation Sans", sans-serif' fill="#1a1a1a" stroke="#1a1a1a" stroke-width="0.22" textLength="18.6" lengthAdjust="spacingAndGlyphs">1xDA</text>
<text x="315.80" y="308.50" font-size="7.8" text-anchor="start" font-family='"Liberation Sans", sans-serif' fill="#1a1a1a" stroke="#1a1a1a" stroke-width="0.22" textLength="18.6" lengthAdjust="spacingAndGlyphs">1xDB</text>
<text x="441.70" y="276.30" font-size="7.8" text-anchor="start" font-family='"Liberation Sans", sans-serif' fill="#1a1a1a" stroke="#1a1a1a" stroke-width="0.22" textLength="23.2" lengthAdjust="spacingAndGlyphs">16xDA</text>
<text x="424.90" y="302.90" font-size="7.8" text-anchor="start" font-family='"Liberation Sans", sans-serif' fill="#1a1a1a" stroke="#1a1a1a" stroke-width="0.22" textLength="23.1" lengthAdjust="spacingAndGlyphs">18xDB</text>
<text x="271.30" y="199.48" font-size="6.9" text-anchor="end" font-family='"Liberation Sans", sans-serif' fill="#1a1a1a" stroke="#1a1a1a" stroke-width="0.22">100</text>
<text x="271.30" y="322.48" font-size="6.9" text-anchor="end" font-family='"Liberation Sans", sans-serif' fill="#1a1a1a" stroke="#1a1a1a" stroke-width="0.22">10</text>
<text x="279.40" y="332.48" font-size="6.9" text-anchor="middle" font-family='"Liberation Sans", sans-serif' fill="#1a1a1a" stroke="#1a1a1a" stroke-width="0.22">10</text>
<text x="374.65" y="332.48" font-size="6.9" text-anchor="middle" font-family='"Liberation Sans", sans-serif' fill="#1a1a1a" stroke="#1a1a1a" stroke-width="0.22">100</text>
<text x="469.90" y="332.48" font-size="6.9" text-anchor="middle" font-family='"Liberation Sans", sans-serif' fill="#1a1a1a" stroke="#1a1a1a" stroke-width="0.22">1,000</text>
<text x="378.50" y="343.60" font-size="8.8" text-anchor="middle" font-family='"Liberation Sans", sans-serif' fill="#1a1a1a" stroke="#1a1a1a" stroke-width="0.22" textLength="22" lengthAdjust="spacingAndGlyphs">Us, V</text>
<text x="260.00" y="261.20" font-size="8.8" text-anchor="middle" font-family='"Liberation Sans", sans-serif' fill="#1a1a1a" stroke="#1a1a1a" stroke-width="0.22" transform="rotate(-90 260.00 261.20)" textLength="21.4" lengthAdjust="spacingAndGlyphs">I, mA</text>
<text x="366.10" y="365.70" font-size="12.6" text-anchor="middle" font-family='"Liberation Serif", serif' fill="#111">(<tspan font-weight="bold">d</tspan>)</text>
<path d="M30.00 374.25V499.00M59.50 374.25V499.00M76.76 374.25V499.00M89.00 374.25V499.00M98.50 374.25V499.00M106.26 374.25V499.00M112.82 374.25V499.00M118.50 374.25V499.00M123.52 374.25V499.00M128.00 374.25V499.00M157.50 374.25V499.00M174.76 374.25V499.00M187.00 374.25V499.00M196.50 374.25V499.00M204.26 374.25V499.00M210.82 374.25V499.00M216.50 374.25V499.00M221.52 374.25V499.00M226.00 374.25V499.00M27.80 499.00H226.00M27.80 461.45H226.00M27.80 439.48H226.00M27.80 423.89H226.00M27.80 411.80H226.00M27.80 401.93H226.00M27.80 393.57H226.00M27.80 386.34H226.00M27.80 379.96H226.00M27.80 374.25H226.00" stroke="#8e8e8e" stroke-width="0.6" fill="none"/>
<path d="M30.00 374.25H226.00V499.00" fill="none" stroke="#808080" stroke-width="0.8"/>
<path d="M50.00 462.27L98.50 462.27L132.06 462.27L135.76 462.27L139.17 462.27L142.32 462.27L145.26 462.27L148.00 462.27L150.58 462.27L153.02 462.27L155.32 462.27L156.42 374.25" stroke="#27a646" stroke-width="1.2" fill="none" stroke-linejoin="round"/>
<path d="M48.70 460.97L51.30 463.57M48.70 463.57L51.30 460.97M50.00 460.97V463.57M97.20 460.97L99.80 463.57M97.20 463.57L99.80 460.97M98.50 460.97V463.57M130.76 460.97L133.36 463.57M130.76 463.57L133.36 460.97M132.06 460.97V463.57M134.46 460.97L137.06 463.57M134.46 463.57L137.06 460.97M135.76 460.97V463.57M137.87 460.97L140.47 463.57M137.87 463.57L140.47 460.97M139.17 460.97V463.57M141.02 460.97L143.62 463.57M141.02 463.57L143.62 460.97M142.32 460.97V463.57M143.96 460.97L146.56 463.57M143.96 463.57L146.56 460.97M145.26 460.97V463.57M146.70 460.97L149.30 463.57M146.70 463.57L149.30 460.97M148.00 460.97V463.57M149.28 460.97L151.88 463.57M149.28 463.57L151.88 460.97M150.58 460.97V463.57M151.72 460.97L154.32 463.57M151.72 463.57L154.32 460.97M153.02 460.97V463.57M154.02 460.97L156.62 463.57M154.02 463.57L156.62 460.97M155.32 460.97V463.57M155.12 372.95L157.72 375.55M155.12 375.55L157.72 372.95M156.42 372.95V375.55" stroke="#12882c" stroke-width="0.95" fill="none"/>
<path d="M50.00 459.58L98.50 459.58L132.06 459.58L135.76 459.58L139.17 459.58L142.32 459.58L145.26 459.58L148.00 459.58L150.58 459.58L153.02 459.58L155.32 374.25" stroke="#3030ff" stroke-width="1.2" fill="none" stroke-linejoin="round"/>
<path d="M48.70 458.28L51.30 460.88M48.70 460.88L51.30 458.28M50.00 458.28V460.88M97.20 458.28L99.80 460.88M97.20 460.88L99.80 458.28M98.50 458.28V460.88M130.76 458.28L133.36 460.88M130.76 460.88L133.36 458.28M132.06 458.28V460.88M134.46 458.28L137.06 460.88M134.46 460.88L137.06 458.28M135.76 458.28V460.88M137.87 458.28L140.47 460.88M137.87 460.88L140.47 458.28M139.17 458.28V460.88M141.02 458.28L143.62 460.88M141.02 460.88L143.62 458.28M142.32 458.28V460.88M143.96 458.28L146.56 460.88M143.96 460.88L146.56 458.28M145.26 458.28V460.88M146.70 458.28L149.30 460.88M146.70 460.88L149.30 458.28M148.00 458.28V460.88M149.28 458.28L151.88 460.88M149.28 460.88L151.88 458.28M150.58 458.28V460.88M151.72 458.28L154.32 460.88M151.72 460.88L154.32 458.28M153.02 458.28V460.88M154.02 372.95L156.62 375.55M154.02 375.55L156.62 372.95M155.32 372.95V375.55" stroke="#1818e8" stroke-width="0.95" fill="none"/>
<path d="M179.00 394.50H196.00" stroke="#27a646" stroke-width="1.1" fill="none"/>
<path d="M186.10 393.10L188.90 395.90M186.10 395.90L188.90 393.10M187.50 393.10V395.90" stroke="#27a646" stroke-width="0.7" fill="none"/>
<text x="198.50" y="396.95" font-size="6.8" text-anchor="start" font-family='"Liberation Sans", sans-serif' fill="#1a1a1a" stroke="#1a1a1a" stroke-width="0.22">BRA</text>
<path d="M179.00 409.50H196.00" stroke="#3030ff" stroke-width="1.1" fill="none"/>
<path d="M186.10 408.10L188.90 410.90M186.10 410.90L188.90 408.10M187.50 408.10V410.90" stroke="#3030ff" stroke-width="0.7" fill="none"/>
<text x="198.50" y="411.95" font-size="6.8" text-anchor="start" font-family='"Liberation Sans", sans-serif' fill="#1a1a1a" stroke="#1a1a1a" stroke-width="0.22">BRB</text>
<text x="22.50" y="376.77" font-size="7.0" text-anchor="end" font-family='"Liberation Sans", sans-serif' fill="#1a1a1a" stroke="#1a1a1a" stroke-width="0.22">100</text>
<text x="22.50" y="501.52" font-size="7.0" text-anchor="end" font-family='"Liberation Sans", sans-serif' fill="#1a1a1a" stroke="#1a1a1a" stroke-width="0.22">10</text>
<text x="30.50" y="512.82" font-size="7.0" text-anchor="middle" font-family='"Liberation Sans", sans-serif' fill="#1a1a1a" stroke="#1a1a1a" stroke-width="0.22">100</text>
<text x="128.50" y="512.82" font-size="7.0" text-anchor="middle" font-family='"Liberation Sans", sans-serif' fill="#1a1a1a" stroke="#1a1a1a" stroke-width="0.22">1,000</text>
<text x="226.50" y="512.82" font-size="7.0" text-anchor="middle" font-family='"Liberation Sans", sans-serif' fill="#1a1a1a" stroke="#1a1a1a" stroke-width="0.22">10,000</text>
<text x="133.40" y="526.40" font-size="8.8" text-anchor="middle" font-family='"Liberation Sans", sans-serif' fill="#1a1a1a" stroke="#1a1a1a" stroke-width="0.22" textLength="21.5" lengthAdjust="spacingAndGlyphs">Us, V</text>
<text x="12.50" y="439.90" font-size="8.8" text-anchor="middle" font-family='"Liberation Sans", sans-serif' fill="#1a1a1a" stroke="#1a1a1a" stroke-width="0.22" transform="rotate(-90 12.50 439.90)" textLength="21.7" lengthAdjust="spacingAndGlyphs">I, mA</text>
<text x="119.30" y="544.60" font-size="12.6" text-anchor="middle" font-family='"Liberation Serif", serif' fill="#111">(<tspan font-weight="bold">e</tspan>)</text>
<path d="M280.20 376.25V499.45M338.12 376.25V499.45M372.00 376.25V499.45M396.04 376.25V499.45M414.68 376.25V499.45M429.92 376.25V499.45M442.80 376.25V499.45M453.95 376.25V499.45M463.80 376.25V499.45M472.60 376.25V499.45M278.00 499.45H472.60M278.00 480.91H472.60M278.00 470.06H472.60M278.00 462.36H472.60M278.00 456.39H472.60M278.00 451.52H472.60M278.00 447.39H472.60M278.00 443.82H472.60M278.00 440.67H472.60M278.00 437.85H472.60M278.00 419.31H472.60M278.00 408.46H472.60M278.00 400.76H472.60M278.00 394.79H472.60M278.00 389.92H472.60M278.00 385.79H472.60M278.00 382.22H472.60M278.00 379.07H472.60M278.00 376.25H472.60" stroke="#8e8e8e" stroke-width="0.6" fill="none"/>
<path d="M280.20 376.25H472.60V499.45" fill="none" stroke="#808080" stroke-width="0.8"/>
<path d="M353.35 411.28C356.46 412.19 367.15 414.95 372.00 416.76C376.85 418.56 378.45 420.11 382.46 422.13C386.46 424.14 392.45 426.97 396.04 428.85C399.63 430.73 400.89 431.55 404.00 433.42C407.11 435.29 413.38 433.92 414.68 440.08C417.01 451.09 417.41 489.56 417.96 499.45" stroke="#27a646" stroke-width="1.2" fill="none" stroke-linejoin="round" stroke-dasharray="5 2.2"/>
<path d="M352.05 409.98L354.65 412.58M352.05 412.58L354.65 409.98M370.70 415.46L373.30 418.06M370.70 418.06L373.30 415.46M381.16 420.83L383.76 423.43M381.16 423.43L383.76 420.83M394.74 427.55L397.34 430.15M394.74 430.15L397.34 427.55M402.70 432.12L405.30 434.72M402.70 434.72L405.30 432.12M413.38 438.78L415.98 441.38M413.38 441.38L415.98 438.78M416.66 498.15L419.26 500.75M416.66 500.75L419.26 498.15" stroke="#12882c" stroke-width="0.95" fill="none"/>
<path d="M319.47 411.28C322.58 411.28 332.47 411.28 338.12 411.28C343.76 411.28 347.71 411.28 353.35 411.28C359.00 411.28 367.15 411.28 372.00 411.28C376.85 411.28 378.45 411.28 382.46 411.28C386.46 411.28 392.45 411.28 396.04 411.28C399.63 411.28 400.89 411.28 404.00 411.28C407.11 411.28 413.85 406.00 414.68 411.28C417.01 425.97 417.41 484.75 417.96 499.45" stroke="#27a646" stroke-width="1.2" fill="none" stroke-linejoin="round"/>
<path d="M318.17 409.98L320.77 412.58M318.17 412.58L320.77 409.98M319.47 409.98V412.58M336.82 409.98L339.42 412.58M336.82 412.58L339.42 409.98M338.12 409.98V412.58M352.05 409.98L354.65 412.58M352.05 412.58L354.65 409.98M353.35 409.98V412.58M370.70 409.98L373.30 412.58M370.70 412.58L373.30 409.98M372.00 409.98V412.58M381.16 409.98L383.76 412.58M381.16 412.58L383.76 409.98M382.46 409.98V412.58M394.74 409.98L397.34 412.58M394.74 412.58L397.34 409.98M396.04 409.98V412.58M402.70 409.98L405.30 412.58M402.70 412.58L405.30 409.98M404.00 409.98V412.58M413.38 409.98L415.98 412.58M413.38 412.58L415.98 409.98M414.68 409.98V412.58M416.66 498.15L419.26 500.75M416.66 500.75L419.26 498.15M417.96 498.15V500.75" stroke="#12882c" stroke-width="0.95" fill="none"/>
<path d="M319.47 400.76C322.58 400.76 332.47 400.76 338.12 400.76C343.76 400.76 347.71 400.76 353.35 400.76C359.00 400.76 367.15 400.76 372.00 400.76C376.85 400.76 378.45 400.76 382.46 400.76C386.46 400.76 392.45 400.76 396.04 400.76C399.63 400.76 403.26 396.85 404.00 400.76C407.11 417.21 412.90 483.00 414.68 499.45" stroke="#3030ff" stroke-width="1.2" fill="none" stroke-linejoin="round"/>
<path d="M318.17 399.46L320.77 402.06M318.17 402.06L320.77 399.46M319.47 399.46V402.06M336.82 399.46L339.42 402.06M336.82 402.06L339.42 399.46M338.12 399.46V402.06M352.05 399.46L354.65 402.06M352.05 402.06L354.65 399.46M353.35 399.46V402.06M370.70 399.46L373.30 402.06M370.70 402.06L373.30 399.46M372.00 399.46V402.06M381.16 399.46L383.76 402.06M381.16 402.06L383.76 399.46M382.46 399.46V402.06M394.74 399.46L397.34 402.06M394.74 402.06L397.34 399.46M396.04 399.46V402.06M402.70 399.46L405.30 402.06M402.70 402.06L405.30 399.46M404.00 399.46V402.06M413.38 498.15L415.98 500.75M413.38 500.75L415.98 498.15M414.68 498.15V500.75" stroke="#1818e8" stroke-width="0.95" fill="none"/>
<path d="M425.00 395.50H442.50" stroke="#27a646" stroke-width="1.1" fill="none"/>
<path d="M432.35 394.10L435.15 396.90M432.35 396.90L435.15 394.10M433.75 394.10V396.90" stroke="#27a646" stroke-width="0.7" fill="none"/>
<text x="444.50" y="398.02" font-size="7" text-anchor="start" font-family='"Liberation Sans", sans-serif' fill="#1a1a1a" stroke="#1a1a1a" stroke-width="0.22">ICA</text>
<path d="M425.00 411.50H442.50" stroke="#3030ff" stroke-width="1.1" fill="none"/>
<path d="M432.35 410.10L435.15 412.90M432.35 412.90L435.15 410.10M433.75 410.10V412.90" stroke="#3030ff" stroke-width="0.7" fill="none"/>
<text x="444.50" y="414.02" font-size="7" text-anchor="start" font-family='"Liberation Sans", sans-serif' fill="#1a1a1a" stroke="#1a1a1a" stroke-width="0.22">ICB</text>
<text x="273.00" y="378.77" font-size="7.0" text-anchor="end" font-family='"Liberation Sans", sans-serif' fill="#1a1a1a" stroke="#1a1a1a" stroke-width="0.22">100</text>
<text x="273.00" y="440.37" font-size="7.0" text-anchor="end" font-family='"Liberation Sans", sans-serif' fill="#1a1a1a" stroke="#1a1a1a" stroke-width="0.22">10</text>
<text x="273.00" y="501.97" font-size="7.0" text-anchor="end" font-family='"Liberation Sans", sans-serif' fill="#1a1a1a" stroke="#1a1a1a" stroke-width="0.22">1</text>
<text x="280.20" y="512.82" font-size="7.0" text-anchor="middle" font-family='"Liberation Sans", sans-serif' fill="#1a1a1a" stroke="#1a1a1a" stroke-width="0.22">100</text>
<text x="472.60" y="512.82" font-size="7.0" text-anchor="middle" font-family='"Liberation Sans", sans-serif' fill="#1a1a1a" stroke="#1a1a1a" stroke-width="0.22">1,000</text>
<text x="380.20" y="524.90" font-size="8.8" text-anchor="middle" font-family='"Liberation Sans", sans-serif' fill="#1a1a1a" stroke="#1a1a1a" stroke-width="0.22" textLength="21.6" lengthAdjust="spacingAndGlyphs">Us, V</text>
<text x="262.00" y="440.30" font-size="8.8" text-anchor="middle" font-family='"Liberation Sans", sans-serif' fill="#1a1a1a" stroke="#1a1a1a" stroke-width="0.22" transform="rotate(-90 262.00 440.30)" textLength="20.8" lengthAdjust="spacingAndGlyphs">I, mA</text>
<text x="366.10" y="544.60" font-size="12.6" text-anchor="middle" font-family='"Liberation Serif", serif' fill="#111">(<tspan font-weight="bold">f</tspan>)</text>
</svg>
</body></html>
